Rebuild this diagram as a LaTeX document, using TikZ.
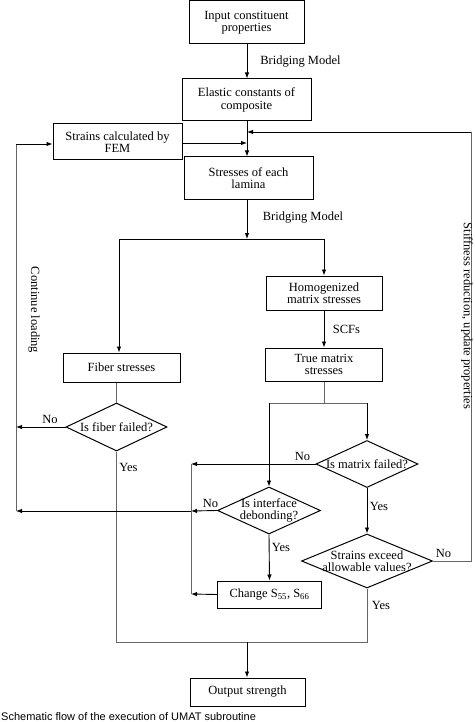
\documentclass[tikz,border=0pt]{standalone}
\usepackage{fontspec}
\setmainfont{Liberation Serif}
\newfontfamily\capfont{Liberation Sans}
\usetikzlibrary{shapes.geometric,arrows.meta}
\begin{document}
\begin{tikzpicture}[x=1pt,y=-1pt,
  font=\fontsize{12.5}{12.5}\selectfont,
  box/.style={draw, line width=1pt, inner sep=0pt, align=center},
  dia/.style={draw, diamond, line width=1pt, inner sep=0pt},
  lbl/.style={inner sep=0pt, align=center},
  arr/.style={line width=0.9pt, -{Latex[length=6pt,width=4.5pt]}},
  ln/.style={line width=0.8pt, draw=black!60}
]
\path[use as bounding box, fill=white] (0,0) rectangle (474,722);

% boxes
\node[box, minimum width=115pt, minimum height=43pt] (inp) at (246.5,22.5) {Input constituent\\properties};
\node[box, minimum width=129pt, minimum height=42pt] (ela) at (246.5,100) {Elastic constants of\\composite};
\node[box, minimum width=129pt, minimum height=36pt] (fem) at (117.5,142) {Strains calculated by\\FEM};
\node[box, minimum width=129pt, minimum height=42pt] (lam) at (248.5,178) {Stresses of each\\lamina};
\node[box, minimum width=116pt, minimum height=34pt] (hom) at (324,293) {Homogenized\\matrix stresses};
\node[box, minimum width=117pt, minimum height=33pt] (tru) at (324,364.5) {True matrix\\stresses};
\node[box, minimum width=117pt, minimum height=29pt] (fib) at (121.5,367.5) {Fiber stresses};
\node[box, minimum width=104pt, minimum height=27pt] (chg) at (269.5,594.5) {Change S\textsubscript{55}, S\textsubscript{66}};
\node[box, minimum width=115pt, minimum height=28pt] (out) at (247.5,692) {Output strength};

% diamonds
\node[dia, minimum width=101pt, minimum height=48pt, label={[lbl]center:Is fiber failed?}] (fd) at (116.5,427) {};
\node[dia, minimum width=102pt, minimum height=47pt, label={[lbl]center:Is matrix failed?}] (md) at (367,464) {};
\node[dia, minimum width=103pt, minimum height=47pt, label={[lbl]center:{Is interface\\debonding?}}] (idm) at (269,510.5) {};
\node[dia, minimum width=131pt, minimum height=54pt, label={[lbl]center:{Strains exceed\\allowable values?}}] (sd) at (367,561) {};

% junction coordinates
\coordinate (fb) at (247,132);
\coordinate (se) at (247,143);
\coordinate (br) at (247,239);
\coordinate (brL) at (119,239);
\coordinate (brR) at (324,239);
\coordinate (rt) at (471,561);
\coordinate (rtTop) at (471,132);
\coordinate (lb) at (16,511);
\coordinate (lt) at (16,144);
\coordinate (lf) at (16,427);
\coordinate (v1) at (191,464);
\coordinate (v2) at (191,511);
\coordinate (v3) at (191,594);
\coordinate (mj) at (324,403);
\coordinate (mjL) at (269,403);
\coordinate (mjR) at (367,403);
\coordinate (bj) at (116.5,642);
\coordinate (bjR) at (367,642);
\coordinate (bjM) at (247,642);

% main flow
\draw[arr] (inp.south -| fb) -- (ela.north -| fb);
\draw[arr] (ela.south -| fb) -- (lam.north -| fb);
\draw[arr] (fem.east |- se) -- (se);
\draw[arr] (lam.south -| br) -- (br);
\draw[line width=0.9pt] (brL) -- (brR);
\draw[arr] (brL) -- (fib.north -| brL);
\draw[arr] (brR) -- (hom.north -| brR);
\draw[arr] (hom.south) -- (tru.north);

% fiber branch
\draw[ln] (fib.south -| fd.north) -- (fd.north);
\draw[arr] (fd.west) -- (lf);
\draw[ln] (fd.south) -- (bj) -- (bjR) -- (sd.south);
\draw[arr] (bjM) -- (out.north -| bjM);

% matrix branch
\draw[ln] (tru.south) -- (mj);
\draw[ln] (mjL) -- (mjR);
\draw[arr] (mjR) -- (md.north);
\draw[arr] (mjL) -- (idm.north);
\draw[arr] (md.west) -- (v1);
\draw[ln] (v1) -- (v3);
\draw[arr] (idm.west) -- (v2);
\draw[arr] (v2) -- (lb);
\draw[arr] (chg.west) -- (v3);
\draw[arr] (idm.south) -- (chg.north);
\draw[arr] (md.south) -- (sd.north);

% loops
\draw[ln] (lb) -- (lt);
\draw[arr] (lt) -- (fem.west |- lt);
\draw[ln] (sd.east) -- (rt) -- (rtTop);
\draw[arr] (rtTop) -- (fb);

% labels
\node[lbl] (bm1) at (300.5,62) {Bridging Model};
\node[lbl] (bm2) at (303,218) {Bridging Model};
\node[lbl] (scf) at (346.5,329) {SCFs};
\node[lbl, rotate=-90] (cl) at (34,310) {Continue loading};
\node[lbl, rotate=-90] (sr) at (467,316) {Stiffness reduction, update properties};
\node[lbl] (no1) at (50,419) {No};
\node[lbl] (ye1) at (128.5,467) {Yes};
\node[lbl] (no2) at (302.5,456) {No};
\node[lbl] (no3) at (210.5,503) {No};
\node[lbl] (ye3) at (281,547) {Yes};
\node[lbl] (ye2) at (379,506) {Yes};
\node[lbl] (no4) at (443.5,553) {No};
\node[lbl] (ye4) at (381,605) {Yes};

% caption
\node[inner sep=0pt, anchor=base west, font=\capfont\fontsize{11}{11}\selectfont] (cap) at (1,720) {Schematic flow of the execution of UMAT subroutine};
\end{tikzpicture}
\end{document}
